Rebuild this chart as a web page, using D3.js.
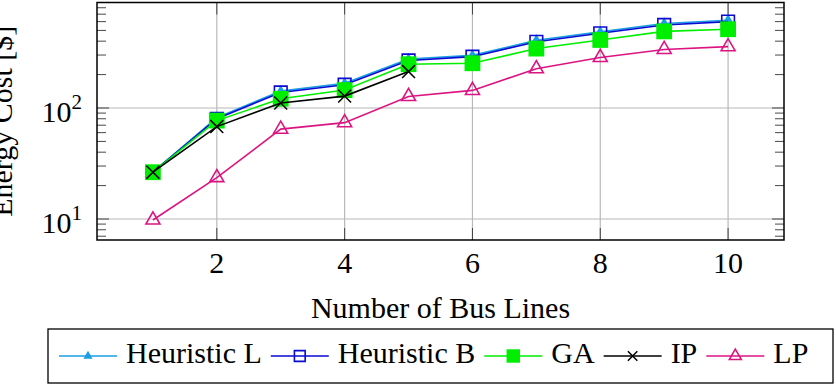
<!DOCTYPE html>
<html>
<head>
<meta charset="utf-8">
<script src="https://cdn.jsdelivr.net/npm/d3@7"></script>
<style>
  body { margin: 0; background: #fff; }
  svg text { font-family: "Liberation Serif", "DejaVu Serif", "Noto Serif", "Times New Roman", Times, FreeSerif, serif; fill: #000; }
</style>
</head>
<body>
<div id="chart"></div>
<script>
// data
var busLines = [1, 2, 3, 4, 5, 6, 7, 8, 9, 10];
var heuristicL = [26.5, 82, 142, 167, 276, 298, 407, 485, 577, 618];
var heuristicB = [26.5, 80, 138, 162, 268, 290, 395, 471, 560, 600];
var ga = [26.4, 77, 121, 145, 248, 253, 343, 410, 490, 512];
var ip = [26.4, 68, 111, 128, 213];
var lp = [9.8, 23.6, 64.5, 73.8, 127, 144, 226, 285, 337, 357];
var xTicks = [2, 4, 6, 8, 10];
var yTicks = [10, 100];
var seriesNames = ["Heuristic L", "Heuristic B", "GA", "IP", "LP"];

var width = 836, height = 387;
// plot box (window.top is reserved, so pTop/pBottom)
var pLeft = 97, pRight = 784, pTop = 2.5, pBottom = 240;
var serif = '"Liberation Serif", "DejaVu Serif", "Noto Serif", "Times New Roman", Times, FreeSerif, serif';

var svg = d3.select("#chart")
  .append("svg")
    .attr("width", width)
    .attr("height", height)
    .attr("font-family", serif);

var x = d3.scaleLinear()
  .domain([0.125, 10.875])
  .range([pLeft, pRight]);

var y = d3.scaleLog()
  .domain([6.47, 892])
  .range([pBottom, pTop]);

// grid
svg.append("g").selectAll("line")
  .data(xTicks)
  .enter().append("line")
    .attr("x1", function(d) { return x(d); })
    .attr("x2", function(d) { return x(d); })
    .attr("y1", pTop).attr("y2", pBottom)
    .attr("stroke", "#b8b8b8").attr("stroke-width", 1.2);
svg.append("g").selectAll("line")
  .data(yTicks)
  .enter().append("line")
    .attr("y1", function(d) { return y(d); })
    .attr("y2", function(d) { return y(d); })
    .attr("x1", pLeft).attr("x2", pRight)
    .attr("stroke", "#b8b8b8").attr("stroke-width", 1.2);

// minor ticks on the log axis (both sides, inward)
var minor = [];
[1, 10, 100].forEach(function(dec) {
  for (var k = 2; k <= 9; k++) {
    var v = k * dec;
    if (v > y.domain()[0] && v < y.domain()[1]) minor.push(v);
  }
});
var ticks = svg.append("g").attr("stroke", "#333").attr("stroke-width", 0.9);
minor.forEach(function(v) {
  ticks.append("line").attr("x1", pLeft).attr("x2", pLeft + 9)
    .attr("y1", y(v)).attr("y2", y(v));
  ticks.append("line").attr("x1", pRight - 9).attr("x2", pRight)
    .attr("y1", y(v)).attr("y2", y(v));
});
yTicks.forEach(function(v) {
  ticks.append("line").attr("x1", pLeft).attr("x2", pLeft + 12)
    .attr("y1", y(v)).attr("y2", y(v));
  ticks.append("line").attr("x1", pRight - 12).attr("x2", pRight)
    .attr("y1", y(v)).attr("y2", y(v));
});
xTicks.forEach(function(v) {
  ticks.append("line").attr("x1", x(v)).attr("x2", x(v))
    .attr("y1", pBottom).attr("y2", pBottom - 12);
  ticks.append("line").attr("x1", x(v)).attr("x2", x(v))
    .attr("y1", pTop).attr("y2", pTop + 12);
});

// tick labels
svg.append("g").selectAll("text")
  .data(xTicks)
  .enter().append("text")
    .attr("x", function(d) { return x(d); })
    .attr("y", pBottom + 33)
    .attr("text-anchor", "middle")
    .style("font-size", "30px")
    .text(function(d) { return d; });

var yl = svg.append("g").selectAll("text")
  .data(yTicks)
  .enter().append("text")
    .attr("x", 82)
    .attr("y", function(d) { return y(d) + 14; })
    .attr("text-anchor", "end")
    .style("font-size", "30px");
yl.append("tspan").text("10");
yl.append("tspan")
  .attr("dy", -13)
  .style("font-size", "21px")
  .text(function(d) { return Math.round(Math.log10(d)); });

// axis titles
svg.append("text")
  .attr("x", (pLeft + pRight) / 2)
  .attr("y", 318)
  .attr("text-anchor", "middle")
  .style("font-size", "30px")
  .text("Number of Bus Lines");

// the reference cuts this label at the left edge too
svg.append("text")
  .attr("transform", "translate(12," + ((pTop + pBottom) / 2) + ") rotate(-90)")
  .attr("text-anchor", "middle")
  .style("font-size", "30px")
  .text("Energy Cost [$]");

// series
var series = [
  {name: seriesNames[0], values: heuristicL, color: "#1a9ee4", mark: "triFill"},
  {name: seriesNames[1], values: heuristicB, color: "#0a0ad2", mark: "square"},
  {name: seriesNames[2], values: ga, color: "#00ee00", mark: "squareFill"},
  {name: seriesNames[3], values: ip, color: "#000000", mark: "cross"},
  {name: seriesNames[4], values: lp, color: "#dc1482", mark: "tri"}
];

function drawMark(g, m, color, small) {
  var s = small ? 0.85 : 1;
  if (m == "triFill") {
    g.append("path").attr("d", d3.symbol(d3.symbolTriangle, 50 * s * s)())
      .attr("fill", color);
  } else if (m == "square") {
    g.append("path").attr("d", d3.symbol(d3.symbolSquare, 160 * s * s)())
      .attr("fill", "none").attr("stroke", color).attr("stroke-width", 1.6);
  } else if (m == "squareFill") {
    g.append("path").attr("d", d3.symbol(d3.symbolSquare, 250 * s * s)())
      .attr("fill", color);
  } else if (m == "cross") {
    g.append("path").attr("d", d3.symbol(d3.symbolX, (small ? 60 : 110))())
      .attr("fill", "none").attr("stroke", color).attr("stroke-width", 1.5);
  } else {
    g.append("path").attr("d", d3.symbol(d3.symbolTriangle, 85 * s * s)())
      .attr("fill", "none").attr("stroke", color).attr("stroke-width", 1.6);
  }
}

var line = d3.line()
  .x(function(d, i) { return x(busLines[i]); })
  .y(function(d) { return y(d); });

series.forEach(function(sr) {
  svg.append("path")
    .datum(sr.values)
    .attr("fill", "none")
    .attr("stroke", sr.color)
    .attr("stroke-width", 1.6)
    .attr("d", line);
  sr.values.forEach(function(v, i) {
    var g = svg.append("g")
      .attr("transform", "translate(" + x(busLines[i]) + "," + y(v) + ")");
    drawMark(g, sr.mark, sr.color, false);
  });
});

// frame
svg.append("rect")
  .attr("x", pLeft).attr("y", pTop)
  .attr("width", pRight - pLeft).attr("height", pBottom - pTop)
  .attr("fill", "none").attr("stroke", "#000").attr("stroke-width", 1.5);

// legend
var legend = svg.append("g");
legend.append("rect")
  .attr("x", 48).attr("y", 329)
  .attr("width", 785).attr("height", 54)
  .attr("fill", "none").attr("stroke", "#000").attr("stroke-width", 1.3);

var lx = 59, ly = 356;
series.forEach(function(sr) {
  legend.append("line")
    .attr("x1", lx).attr("x2", lx + 58)
    .attr("y1", ly).attr("y2", ly)
    .attr("stroke", sr.color).attr("stroke-width", 1.6);
  var g = legend.append("g").attr("transform", "translate(" + (lx + 29) + "," + ly + ")");
  drawMark(g, sr.mark, sr.color, true);
  var t = legend.append("text")
    .attr("x", lx + 58 + 9)
    .attr("y", 363)
    .style("font-size", "30px")
    .text(sr.name);
  lx = lx + 58 + 9 + t.node().getComputedTextLength() + 9;
});
</script>
</body>
</html>
